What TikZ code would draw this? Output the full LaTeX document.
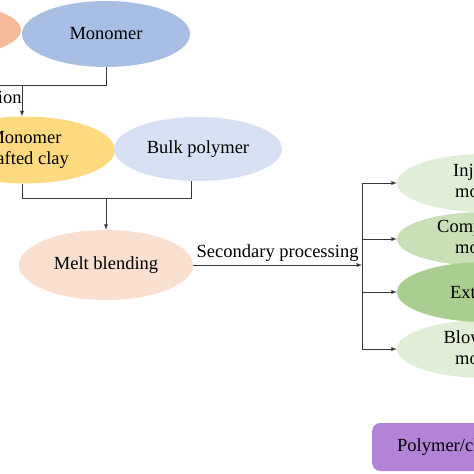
\documentclass[tikz,border=0pt]{standalone}
\usepackage{fontspec}
\setmainfont{Liberation Serif}
\usetikzlibrary{shapes.geometric}

\definecolor{clayorange}{HTML}{F5BB9C}
\definecolor{monoblue}{HTML}{A9BEE4}
\definecolor{grafyellow}{HTML}{FDDA80}
\definecolor{bulkblue}{HTML}{D7E1F3}
\definecolor{meltpeach}{HTML}{F9E0D0}
\definecolor{palegreen}{HTML}{E1EED8}
\definecolor{midgreen}{HTML}{C9DFB7}
\definecolor{deepgreen}{HTML}{AACE90}
\definecolor{boxpurple}{HTML}{B283D6}

\begin{document}
\begin{tikzpicture}[x=1pt, y=-1pt]

      \tikzset{blob/.style={ellipse, inner sep=0pt, align=center, font=\fontsize{18.5}{21}\selectfont, text=black},
               link/.style={draw=black!78, line width=0.9pt, >=latex}}
      \useasboundingbox (0,0) rectangle (474,474);
      \clip (0,0) rectangle (474,474);
      \fill[white] (0,0) rectangle (474,474);
%% Ellipses
      	\node[blob, fill=clayorange, minimum width=162, minimum height=54] (clay) at (-60,30) {};
      	\node[blob, fill=monoblue, minimum width=168, minimum height=66] (mono) at (106,34) {Monomer};
      	\node[blob, fill=grafyellow, minimum width=180, minimum height=67] (graft) at (25,150) {Monomer\\grafted clay};
      	\node[blob, fill=bulkblue, minimum width=168, minimum height=64] (bulk) at (198,149) {Bulk polymer};
      	\node[blob, fill=meltpeach, minimum width=174, minimum height=70] (melt) at (106,265) {Melt blending};
%% Processing routes
      	\node[blob, fill=palegreen, minimum width=178, minimum height=58] (inj) at (486,183) {Injection\\molding};
      	\node[blob, fill=midgreen, minimum width=178, minimum height=54] (comp) at (486,239) {Compression\\molding};
      	\node[blob, fill=palegreen, minimum width=178, minimum height=58] (blow) at (486,349) {Blown film\\molding};
      	\node[blob, fill=deepgreen, minimum width=178, minimum height=60] (extr) at (486,292) {Extrusion};
      	\node[rectangle, rounded corners=8, fill=boxpurple, anchor=west, minimum height=48, inner xsep=25,
      	      font=\fontsize{18.5}{21}\selectfont] (nano) at (372,447) {Polymer/clay nanocomposites};
%Junctions
      	\coordinate (j1) at (22,85);
      	\coordinate (j2) at (22,198);
      	\coordinate (j3) at (191,198);
      	\coordinate (j4) at (106,198);
      	\coordinate (bus) at (362,265);
%Connectors
		\draw[link] (clay.south) |- (j1);
		\draw[link] (mono.south) |- (j1);
		\draw[link, ->] (j1) -- (j1 |- graft.north) node[pos=0.5, anchor=base east, inner sep=0pt, yshift=-3,
		      font=\fontsize{18.5}{21}\selectfont] (poly) {Polymerization};
		\draw[link] (j2 |- graft.south) -- (j2) -- (j3) -- (j3 |- bulk.south);
		\draw[link, ->] (j4) -- (melt.north);
		\draw[link, ->] (melt.east) -- (bus) node[midway, above, inner sep=3pt,
		      font=\fontsize{18.5}{21}\selectfont] (sec) {Secondary processing};
		\draw[link] (bus |- inj) -- (bus |- blow);
		\draw[link, ->] (bus |- inj) -- (inj);
		\draw[link, ->] (bus |- comp) -- (comp);
		\draw[link, ->] (bus |- extr) -- (extr);
		\draw[link, ->] (bus |- blow) -- (blow);

	\end{tikzpicture}
\end{document}
